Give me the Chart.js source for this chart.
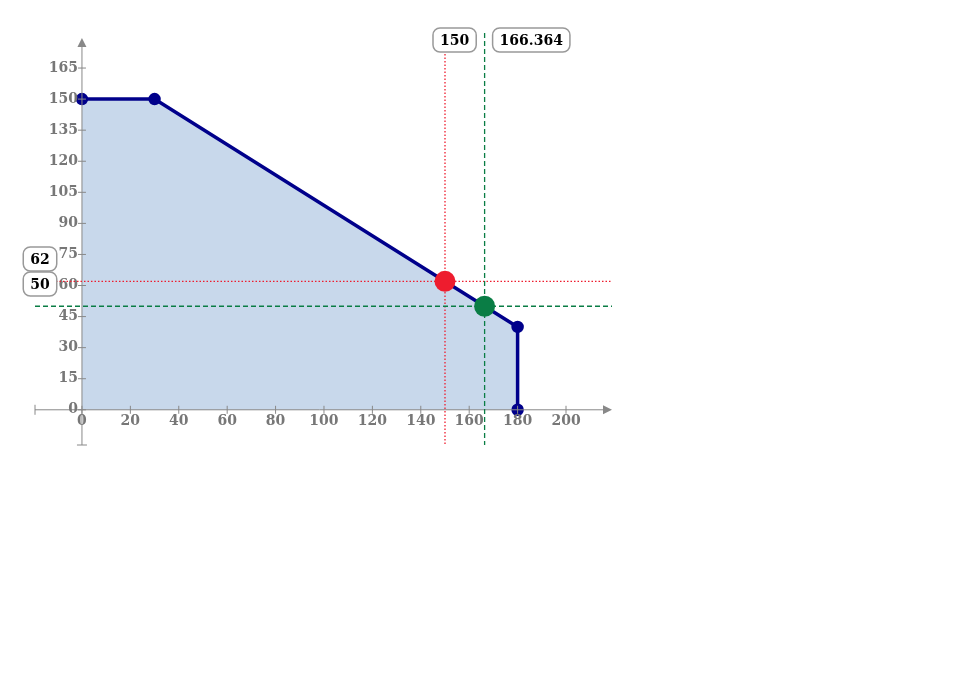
<!DOCTYPE html>
<html><head><meta charset="utf-8">
<script src="https://cdn.jsdelivr.net/npm/chart.js@4"></script>
<style>html,body{margin:0;padding:0;background:#fff}#c{display:block}</style>
</head><body>
<div style="width:957px;height:686px"><canvas id="c"></canvas></div>
<script>
const xs=[0,30,180,180];
const ys=[150,150,40,0];
const xTicks=[0,20,40,60,80,100,120,140,160,180,200];
const yTicks=[0,15,30,45,60,75,90,105,120,135,150,165];
const markers=[{x:150,y:62,color:'#ee1c2e',dash:[1.5,2],label:'150',ylabel:'62'},
               {x:166.364,y:50,color:'#0a7d45',dash:[5,3],label:'166.364',ylabel:'50'}];
const FONT='bold 14px "DejaVu Serif", serif';
function box(ctx,text,cx,cy){
  ctx.font=FONT;const w=ctx.measureText(text).width+14,h=24;
  const x=cx-w/2,y=cy-h/2;
  ctx.beginPath();ctx.roundRect(x,y,w,h,7);ctx.fillStyle='#fff';ctx.fill();
  ctx.strokeStyle='#999';ctx.lineWidth=1.5;ctx.stroke();
  ctx.fillStyle='#000';ctx.textAlign='center';ctx.textBaseline='middle';ctx.fillText(text,cx,cy+1);
  return w;
}
const deco={id:'deco',
 afterDatasetsDraw(ch){
  const {ctx,chartArea:a,scales:{x,y}}=ch;
  const x0=x.getPixelForValue(0),y0=y.getPixelForValue(0);
  ctx.save();
  ctx.strokeStyle='#888';ctx.fillStyle='#888';ctx.lineWidth=1;
  ctx.beginPath();ctx.moveTo(a.left,y0);ctx.lineTo(a.right-8,y0);ctx.moveTo(x0,a.bottom);ctx.lineTo(x0,a.top+8);ctx.stroke();
  ctx.beginPath();ctx.moveTo(a.right,y0);ctx.lineTo(a.right-9,y0-4.5);ctx.lineTo(a.right-9,y0+4.5);ctx.fill();
  ctx.beginPath();ctx.moveTo(x0,a.top);ctx.lineTo(x0-4.5,a.top+9);ctx.lineTo(x0+4.5,a.top+9);ctx.fill();
  ctx.beginPath();ctx.moveTo(a.left,y0-5);ctx.lineTo(a.left,y0+5);ctx.moveTo(x0-5,a.bottom);ctx.lineTo(x0+5,a.bottom);ctx.stroke();
  ctx.font=FONT;ctx.fillStyle='#777';
  ctx.textAlign='center';ctx.textBaseline='top';
  xTicks.forEach(v=>{const p=x.getPixelForValue(v);ctx.beginPath();ctx.moveTo(p,y0-4);ctx.lineTo(p,y0+4);ctx.stroke();ctx.fillText(v,p,y0+5);});
  ctx.textAlign='right';ctx.textBaseline='middle';
  yTicks.forEach(v=>{const p=y.getPixelForValue(v);ctx.beginPath();ctx.moveTo(x0-4,p);ctx.lineTo(x0+4,p);ctx.stroke();ctx.fillText(v,x0-4,p);});
  markers.forEach(m=>{
   const px=x.getPixelForValue(m.x),py=y.getPixelForValue(m.y);
   ctx.strokeStyle=m.color;ctx.lineWidth=1.3;ctx.setLineDash(m.dash);
   ctx.beginPath();ctx.moveTo(px,a.top-5);ctx.lineTo(px,a.bottom);ctx.moveTo(a.left,py);ctx.lineTo(a.right,py);ctx.stroke();
   ctx.setLineDash([]);
   ctx.beginPath();ctx.arc(px,py,10.5,0,Math.PI*2);ctx.fillStyle=m.color;ctx.fill();
  });
  const p1=x.getPixelForValue(markers[0].x),p2=x.getPixelForValue(markers[1].x);
  ctx.font=FONT;
  const w1=ctx.measureText(markers[0].label).width+14;
  box(ctx,markers[0].label,p1+w1/2-12,40);
  const w2=ctx.measureText(markers[1].label).width+14;
  box(ctx,markers[1].label,p2+w2/2+8,40);
  box(ctx,markers[0].ylabel,40,259);
  box(ctx,markers[1].ylabel,40,284);
  ctx.restore();
 }};
new Chart(document.getElementById('c'),{
 type:'scatter',
 data:{datasets:[{data:xs.map((v,i)=>({x:v,y:ys[i]})),showLine:true,fill:'origin',
   backgroundColor:'rgba(176,199,226,0.7)',borderColor:'#00008b',borderWidth:3.5,
   pointRadius:4.5,pointBackgroundColor:'#00008b',pointBorderColor:'#00008b',tension:0}]},
 options:{responsive:true,maintainAspectRatio:false,animation:false,
  layout:{padding:{left:35,right:345,top:38,bottom:241}},
  plugins:{legend:{display:false},tooltip:{enabled:false}},
  scales:{x:{type:'linear',min:-19.4,max:219,display:false},
          y:{type:'linear',min:-17,max:179.5,display:false}}},
 plugins:[deco]});
</script>
</body></html>
